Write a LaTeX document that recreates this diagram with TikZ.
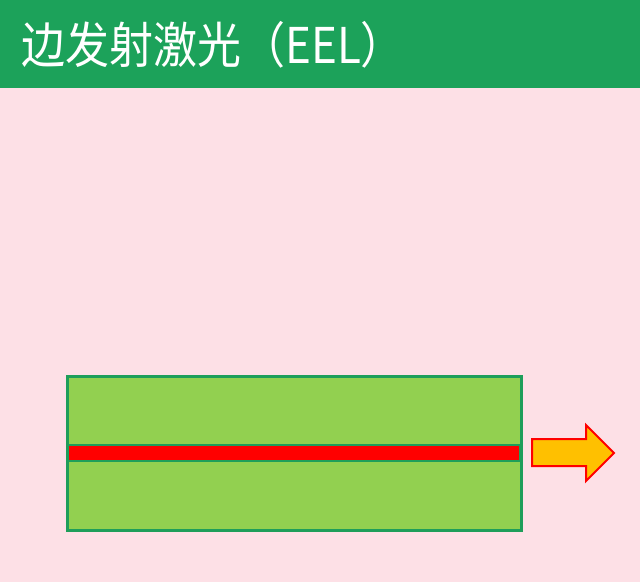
\documentclass[tikz,border=0pt]{standalone}
\usepackage{fontspec}
\newfontfamily\cjk{Noto Sans CJK SC}
\usepackage{xcolor}
\usepackage{tikz}

\definecolor{headgreen}{RGB}{28,162,90}
\definecolor{bgpink}{RGB}{253,224,230}
\definecolor{chipgreen}{RGB}{146,208,80}
\definecolor{edgegreen}{RGB}{30,158,90}
\definecolor{beamorange}{RGB}{255,192,0}

\begin{document}
\begin{tikzpicture}[x=1pt,y=-1pt]
				\useasboundingbox (0,0) rectangle (640,582);
				\fill[bgpink] (0,0) rectangle (640,582);
				\fill[headgreen] (0,0) rectangle (640,88);

				\node[anchor=west, text=white, font=\cjk\fontsize{44}{54}\selectfont, inner sep=0pt] (title) at (21,45) {\scalebox{1}[1.12]{边发射激光（EEL）}};

				% chip body
				\filldraw[color=edgegreen, fill=chipgreen, line width=3pt] (67,376) rectangle (521,530);

				% active layer
				\filldraw[color=edgegreen, fill=red, line width=1.5pt] (68,445) rectangle (520,461);

				% output beam
				\filldraw[color=red, fill=beamorange, line width=2pt] (532,439) -- (586,439) -- (586,425) -- (614,453) -- (586,481) -- (586,466) -- (532,466) -- cycle;
			\end{tikzpicture}
\end{document}
